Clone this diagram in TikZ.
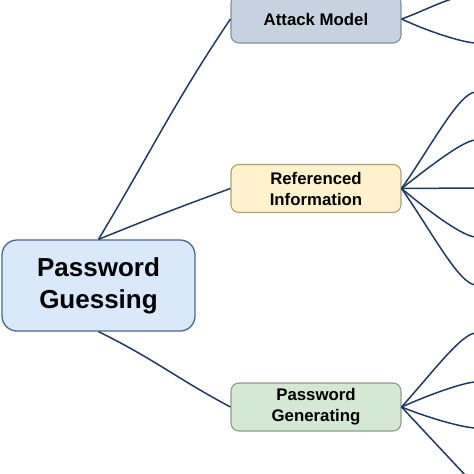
\documentclass[tikz,border=0pt]{standalone}
\usepackage{fontspec}
\setmainfont{Liberation Sans}

\definecolor{guessfill}{HTML}{DAE8FC}
\definecolor{guessdraw}{HTML}{4A6790}
\definecolor{attackfill}{HTML}{C6D2DF}
\definecolor{attackdraw}{HTML}{7F8FA3}
\definecolor{reffill}{HTML}{FFF2CC}
\definecolor{refdraw}{HTML}{ABA078}
\definecolor{genfill}{HTML}{D5E8D4}
\definecolor{gendraw}{HTML}{8C9D89}
\definecolor{branchcol}{HTML}{233A5E}

\begin{document}
\begin{tikzpicture}[x=1pt,y=-1pt,
	branch/.style={draw=branchcol, line width=1.5pt},
	leaf/.style={in=180, out looseness=1.1, in looseness=0.35},
	topic/.style={rounded corners=8pt, line width=1.1pt, align=center, inner sep=0pt,
		minimum width=170pt, minimum height=48pt,
		font=\bfseries\fontsize{16.8}{21}\selectfont},
	root/.style={rounded corners=15pt, line width=1.3pt, align=center, inner sep=0pt,
		minimum width=193pt, minimum height=91pt,
		font=\bfseries\fontsize{26}{32}\selectfont}] % mind map, right part cut off
	\useasboundingbox (0,0) rectangle (474,474);
	\clip (0,0) rectangle (474,474);

	\node[root, draw=guessdraw, fill=guessfill] (guess) at (98.5,285.5) {Password\\Guessing};
	\node[topic, draw=attackdraw, fill=attackfill] (attack) at (316,19) {Attack Model};
	\node[topic, draw=refdraw, fill=reffill] (ref) at (316,188.5) {Referenced\\Information};
	\node[topic, draw=gendraw, fill=genfill] (gen) at (316,407) {Password\\Generating};

	% leaves outside the picture
	\coordinate (atkA) at (462,-4);
	\coordinate (atkB) at (476,43);
	\coordinate (refA) at (476,92);
	\coordinate (refB) at (476,140);
	\coordinate (refC) at (476,188);
	\coordinate (refD) at (476,237);
	\coordinate (refE) at (476,285);
	\coordinate (genA) at (476,333);
	\coordinate (genB) at (476,382);
	\coordinate (genC) at (476,428);
	\coordinate (genD) at (466,476);

	\draw[branch] (guess.north) to[out=59,in=236] (attack.west);
	\draw[branch] (guess.north) to[out=22,in=200] (ref.west);
	\draw[branch] (guess.south) to[out=-26,in=152] (gen.west);

	\draw[branch] (attack.east) to[out=20,in=195] (atkA);
	\draw[branch] (attack.east) to[leaf,out=-25] (atkB);

	\draw[branch] (ref.east) to[leaf,out=55] (refA);
	\draw[branch] (ref.east) to[leaf,out=38] (refB);
	\draw[branch] (ref.east) -- (refC);
	\draw[branch] (ref.east) to[leaf,out=-40] (refD);
	\draw[branch] (ref.east) to[leaf,out=-55] (refE);

	\draw[branch] (gen.east) to[leaf,out=48] (genA);
	\draw[branch] (gen.east) to[leaf,out=24] (genB);
	\draw[branch] (gen.east) to[leaf,out=-22] (genC);
	\draw[branch] (gen.east) -- (genD);
\end{tikzpicture}
\end{document}
